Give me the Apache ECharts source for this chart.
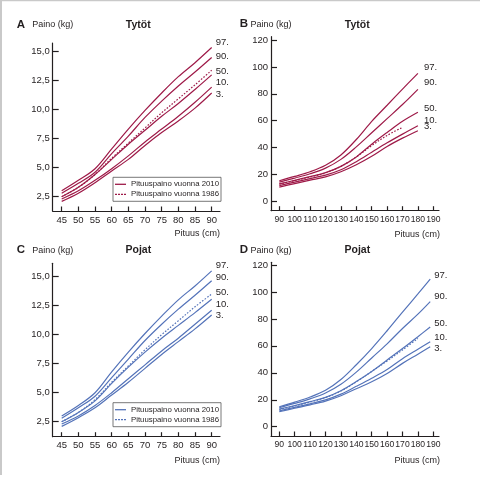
<!DOCTYPE html>
<html><head><meta charset="utf-8">
<script src="https://cdn.jsdelivr.net/npm/echarts@6/dist/echarts.min.js"></script>
<style>html,body{margin:0;padding:0;background:#fff}#c{width:480px;height:479px}</style>
</head><body><div id="c"></div>
<script>
// ---------- data ----------
const lenSmall = [45, 50, 55, 60, 65, 70, 75, 80, 85, 90];
const lenGirls = [90, 100, 110, 120, 130, 140, 150, 160, 170, 180];
const lenBoys = [90, 100, 110, 120, 130, 140, 150, 160, 170, 180, 188];

// A: girls 45–90 cm
const gA97 = [3.0, 3.9, 4.9, 6.6, 8.3, 9.9, 11.4, 12.8, 14.0, 15.3];
const gA90 = [2.8, 3.65, 4.6, 6.2, 7.7, 9.3, 10.7, 12.0, 13.2, 14.45];
const gA50 = [2.5, 3.3, 4.4, 5.7, 7.0, 8.2, 9.4, 10.5, 11.7, 12.95];
const gA86 = [2.5, 3.3, 4.4, 5.8, 7.1, 8.4, 9.7, 10.9, 12.1, 13.35];
const gA10 = [2.3, 3.0, 3.9, 4.9, 6.0, 7.2, 8.3, 9.4, 10.6, 11.9];
const gA3 = [2.1, 2.8, 3.7, 4.7, 5.7, 6.9, 8.0, 9.0, 10.1, 11.4];

// B: girls 90–180 cm
const gB97 = [15.3, 18.5, 22.0, 26.8, 34.5, 46.0, 59.5, 71.5, 83.5, 95.2];
const gB90 = [14.3, 17.3, 20.5, 24.7, 31.2, 40.5, 51.0, 61.5, 72.0, 83.3];
const gB50 = [13.0, 15.6, 18.3, 21.3, 26.0, 33.0, 42.5, 51.2, 59.5, 66.2];
const gB86 = [12.8, 15.4, 18.1, 21.1, 26.0, 33.0, 41.5, 49.0, 55.0];
const gB10 = [11.7, 14.3, 16.9, 19.5, 23.5, 29.5, 36.5, 43.5, 50.0, 56.2];
const gB3 = [10.6, 13.2, 15.7, 18.2, 22.0, 27.2, 33.5, 40.8, 47.0, 52.5];

// C: boys 45–90 cm
const bC97 = [3.0, 3.9, 5.0, 6.8, 8.5, 10.1, 11.6, 13.0, 14.2, 15.5];
const bC90 = [2.8, 3.7, 4.7, 6.3, 7.9, 9.5, 10.9, 12.2, 13.4, 14.65];
const bC50 = [2.5, 3.3, 4.3, 5.8, 7.2, 8.5, 9.7, 10.8, 11.9, 13.05];
const bC86 = [2.5, 3.3, 4.4, 5.9, 7.3, 8.7, 10.0, 11.2, 12.4, 13.5];
const bC10 = [2.3, 3.0, 3.9, 5.0, 6.2, 7.4, 8.6, 9.7, 10.9, 12.1];
const bC3 = [2.1, 2.85, 3.7, 4.8, 5.9, 7.1, 8.3, 9.4, 10.5, 11.7];

// D: boys 90–188 cm
const bD97 = [14.8, 18.2, 22.0, 27.0, 35.0, 46.0, 58.0, 71.2, 85.0, 98.5, 109.5];
const bD90 = [14.2, 17.3, 20.7, 25.0, 31.5, 40.5, 51.0, 61.5, 72.9, 83.5, 92.8];
const bD50 = [13.0, 15.7, 18.6, 21.8, 26.7, 33.5, 41.0, 49.5, 58.0, 66.8, 74.0];
const bD86 = [12.8, 15.4, 18.3, 21.6, 26.5, 33.3, 41.0, 48.8, 57.0, 65.5];
const bD10 = [11.8, 14.4, 17.0, 19.9, 24.2, 30.0, 36.0, 42.5, 50.5, 57.5, 63.0];
const bD3 = [11.1, 13.7, 16.2, 19.0, 23.0, 28.2, 33.3, 39.5, 47.0, 53.8, 59.3];

const ticksSmallX = [45, 50, 55, 60, 65, 70, 75, 80, 85, 90];
const ticksBigX = [90, 100, 110, 120, 130, 140, 150, 160, 170, 180, 190];
const ticksSmallY = [2.5, 5, 7.5, 10, 12.5, 15];
const ticksBigY = [0, 20, 40, 60, 80, 100, 120];
const pctLabels = ['97.', '90.', '50.', '10.', '3.'];
const legendText = {g2010: 'Pituuspaino vuonna 2010', g1986: 'Pituuspaino vuonna 1986',
                    b2010: 'Pituuspaino vuonna 2010', b1986: 'Pituuspaino vuonna 1986'};

// ---------- style ----------
const FONT = "'Liberation Sans',Arial,sans-serif";
const TXT = '#231f20';
const RED = '#9e1a48';
const BLUE = '#5473b9';

function pairs(xs, ys) { return ys.map((y, i) => [xs[i], y]); }

function line(name, xs, ys, idx, color, dashed, lab, off) {
  const s = {
    type: 'line', name: name, xAxisIndex: idx, yAxisIndex: idx,
    data: pairs(xs, ys), symbol: 'none', smooth: 0.35, silent: true,
    lineStyle: {color: color, width: 1.2, type: dashed ? [1.6, 1.6] : 'solid'},
    itemStyle: {color: color}, emphasis: {disabled: true}, z: dashed ? 2 : 3
  };
  if (lab) s.endLabel = {show: true, formatter: lab, color: TXT, fontSize: 9.5,
    fontFamily: FONT, distance: 4, offset: off};
  return s;
}

function panelSeries(idx, xs, arrs, old, color, nm, offs) {
  const out = arrs.map((a, i) => line(nm + '2010', xs, a, idx, color, false, pctLabels[i], offs[i]));
  out.unshift(line(nm + '1986', xs, old, idx, color, true));
  return out;
}

const axisBase = {
  axisLine: {show: true, onZero: false, lineStyle: {color: TXT, width: 1.2}},
  splitLine: {show: false},
};

function xAxis(idx, min, max, ticks, fs) {
  return Object.assign({}, axisBase, {
    type: 'value', gridIndex: idx, min: min, max: max,
    axisTick: {show: true, inside: true, length: 4.5, customValues: ticks, lineStyle: {color: TXT, width: 1.2}},
    axisLabel: {customValues: ticks, color: TXT, fontFamily: FONT, fontSize: fs, margin: 4,
      showMinLabel: true, showMaxLabel: true, hideOverlap: false}
  });
}
function yAxis(idx, min, max, ticks, fmt, name, gap) {
  return Object.assign({}, axisBase, {
    type: 'value', gridIndex: idx, min: min, max: max,
    name: name, nameLocation: 'end', nameGap: gap,
    nameTextStyle: {color: TXT, fontFamily: FONT, fontSize: 9, align: 'center', verticalAlign: 'middle'},
    axisTick: {show: true, inside: true, length: 6, customValues: ticks, lineStyle: {color: TXT, width: 1.2}},
    axisLabel: {customValues: ticks, color: TXT, fontFamily: FONT, fontSize: 9.5, margin: 3, formatter: fmt,
      showMinLabel: true, showMaxLabel: true}
  });
}
const fmtDec = v => v.toFixed(1).replace('.', ',');
const fmtInt = v => String(v);

function txt(t, x, y, size, bold, align) {
  return {type: 'text', x: x, y: y, silent: true,
    style: {text: t, fill: TXT, font: (bold ? 'bold ' : '') + size + 'px ' + FONT,
      align: align || 'center', verticalAlign: 'middle', textAlign: align || 'center', textVerticalAlign: 'middle'}};
}

const dashIcon = 'path://M0,0h2v1.3h-2zM3,0h2v1.3h-2zM6,0h2v1.3h-2zM9,0h2v1.3h-2z';
function legend(top, a, b) {
  return {data: [{name: a, icon: 'rect'}, {name: b, icon: dashIcon}], orient: 'vertical',
    left: 113, top: top, itemWidth: 11, itemHeight: 1.3,
    itemGap: 0, padding: [2, 2, 2, 2], borderColor: '#555', borderWidth: 0.8,
    selectedMode: false, formatter: n => legendText[n],
    textStyle: {fontFamily: FONT, fontSize: 7.8, lineHeight: 10, color: TXT}};
}

const offA = [[0, -5], [0, -1.5], [0, -4], [0, -4.5], [0, 1.5]];
const offB = [[2, -6.5], [2, -6.5], [2, -4], [2, -5], [2, -4.5]];
const offC = [[0, -5.5], [0, -3.5], [0, -7], [0, -5.5], [0, 0.5]];
const offD = [[0, -3.5], [0, -5], [0, -4], [0, -4.5], [0, 1.5]];

const option = {
  animation: false,
  backgroundColor: '#fff',
  grid: [
    {left: 52.7, top: 43, width: 167.3, height: 168},
    {left: 271, top: 36.7, width: 168, height: 174},
    {left: 52.7, top: 263.3, width: 167.3, height: 173.4},
    {left: 271, top: 262.3, width: 168, height: 173.7}
  ],
  xAxis: [
    xAxis(0, 42.3, 92.5, ticksSmallX, 9.5),
    xAxis(1, 84.6, 193.7, ticksBigX, 8.6),
    xAxis(2, 42.3, 92.5, ticksSmallX, 9.5),
    xAxis(3, 84.6, 193.7, ticksBigX, 8.6)
  ],
  yAxis: [
    yAxis(0, 1.27, 15.69, ticksSmallY, fmtDec, 'Paino (kg)', 18),
    yAxis(1, -7, 122.5, ticksBigY, fmtInt, 'Paino (kg)', 11.7),
    yAxis(2, 1.21, 16.15, ticksSmallY, fmtDec, 'Paino (kg)', 12.6),
    yAxis(3, -6.9, 122, ticksBigY, fmtInt, 'Paino (kg)', 11.6)
  ],
  legend: [legend(177.3, 'g2010', 'g1986'), legend(402.7, 'b2010', 'b1986')],
  series: [].concat(
    panelSeries(0, lenSmall, [gA97, gA90, gA50, gA10, gA3], gA86, RED, 'g', offA),
    panelSeries(1, lenGirls, [gB97, gB90, gB50, gB10, gB3], gB86, RED, 'g', offB),
    panelSeries(2, lenSmall, [bC97, bC90, bC50, bC10, bC3], bC86, BLUE, 'b', offC),
    panelSeries(3, lenBoys, [bD97, bD90, bD50, bD10, bD3], bD86, BLUE, 'b', offD)
  ),
  graphic: [
    {type: 'rect', shape: {x: 0, y: 0, width: 480, height: 1.2}, style: {fill: '#c9c9c9'}, silent: true},
    {type: 'rect', shape: {x: 0, y: 0, width: 2, height: 475}, style: {fill: '#c9c9c9'}, silent: true},
    txt('A', 21, 25, 11.5, true), txt('B', 244, 24, 11.5, true),
    txt('C', 21, 250, 11.5, true), txt('D', 244, 250, 11.5, true),
    txt('Tytöt', 138.3, 25, 10.5, true), txt('Tytöt', 357.3, 25, 10.5, true),
    txt('Pojat', 138.3, 250.5, 10.5, true), txt('Pojat', 357.3, 250, 10.5, true),
    txt('Pituus (cm)', 220, 234, 9, false, 'right'), txt('Pituus (cm)', 440, 234.5, 9, false, 'right'),
    txt('Pituus (cm)', 220, 461, 9, false, 'right'), txt('Pituus (cm)', 440, 461, 9, false, 'right')
  ]
};

const chart = echarts.init(document.getElementById('c'), null, {renderer: 'canvas', width: 480, height: 479});
chart.setOption(option);
</script>
</body></html>
